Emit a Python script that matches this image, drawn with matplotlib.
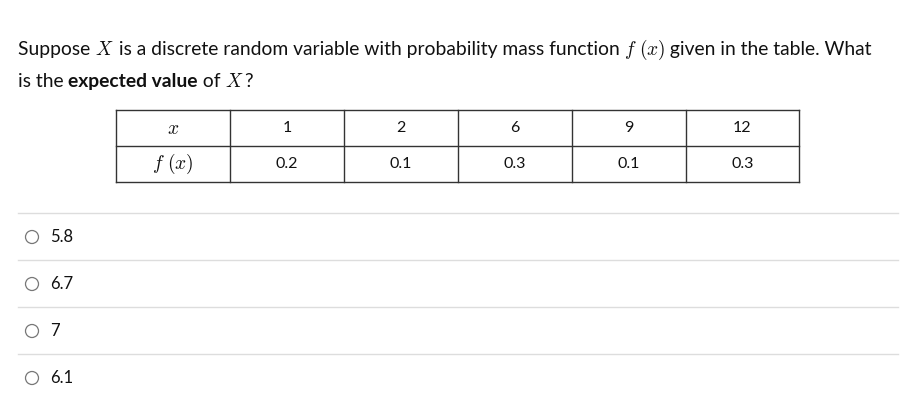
import matplotlib.pyplot as plt
from matplotlib.patches import Circle

plt.rcParams['font.family'] = ['Lato', 'DejaVu Sans']
plt.rcParams['mathtext.fontset'] = 'cm'

x_values = ['1', '2', '6', '9', '12']
probs = ['0.2', '0.1', '0.3', '0.1', '0.3']
options = ['5.8', '6.7', '7', '6.1']

fig = plt.figure(figsize=(9.02, 4.12), dpi=100)
ax = fig.add_axes([0, 0, 1, 1])
ax.set_xlim(0, 902)
ax.set_ylim(412, 0)
ax.axis('off')
renderer = fig.canvas.get_renderer()


def pieces(parts, x, y, size=13.9):
    # draw text runs one after another, advancing by measured width
    for s, w in parts:
        t = ax.text(x, y, s, fontsize=size, fontweight=w, va='baseline', color='#111111')
        x += t.get_window_extent(renderer).width


pieces([('Suppose ', 'normal'), ('$X$', 'normal'),
        (' is a discrete random variable with probability mass function ', 'normal'),
        (r'$f\ (x)$', 'normal'), (' given in the table. What', 'normal')], 18, 55)
pieces([('is the ', 'normal'), ('expected value', 'bold'), (' of ', 'normal'),
        ('$X$', 'normal'), ('?', 'normal')], 18, 87)

# table
col_edges = [116, 230, 344, 458, 572, 686, 799]
row_edges = [110, 146, 182]
for yy in row_edges:
    ax.plot([col_edges[0], col_edges[-1]], [yy, yy], color='#333333', lw=1)
for xx in col_edges:
    ax.plot([xx, xx], [row_edges[0], row_edges[-1]], color='#333333', lw=1)

headers = ['$x$'] + x_values
bottoms = [r'$f\ (x)$'] + probs
for i in range(len(headers)):
    cx = (col_edges[i] + col_edges[i + 1]) / 2
    fs = 14 if i == 0 else 11.5
    ax.text(cx, 128, headers[i], fontsize=fs, ha='center', va='center', color='#111111')
    ax.text(cx, 164, bottoms[i], fontsize=fs, ha='center', va='center', color='#111111')

# answer options
for k, opt in enumerate(options):
    top = 213 + 47 * k
    ax.plot([18, 898], [top, top], color='#dddddd', lw=1)
    cy = top + 24
    ax.add_patch(Circle((32, cy), 6.5, fill=False, ec='#777777', lw=0.9))
    ax.text(50, cy, opt, fontsize=12, va='center', color='#111111')

fig.savefig('out.png', dpi=100, facecolor='white')
